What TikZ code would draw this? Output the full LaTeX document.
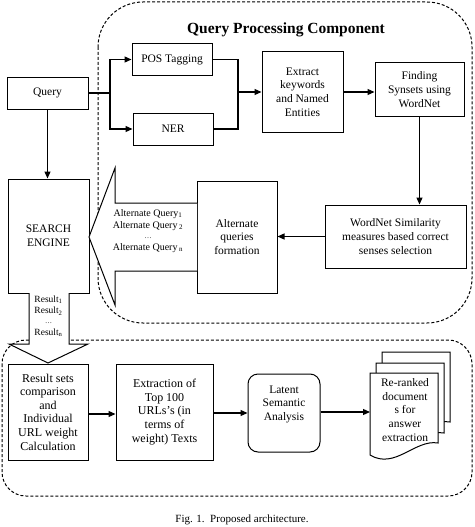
\documentclass[tikz,border=0pt]{standalone}
\usepackage{fontspec}
\setmainfont{Liberation Serif}
\usetikzlibrary{arrows.meta}
\begin{document}
\begin{tikzpicture}[x=1pt,y=-1pt,
  box/.style={draw, line width=1pt, align=center, inner sep=1pt,
    font=\fontsize{11.5}{13.7}\selectfont},
  bbox/.style={box, font=\fontsize{12}{13.6}\selectfont},
  arr/.style={-{Triangle[length=7pt,width=6pt]}, line width=1.2pt},
  ln/.style={line width=1.2pt},
  region/.style={draw, line width=1pt, dash pattern=on 3pt off 2pt},
  hollow/.style={draw, line width=1pt, fill=white},
  small/.style={align=center, font=\fontsize{10}{12}\selectfont},
  docsheet/.pic={\draw[fill=white, line width=1pt] (0,0) -- (68,0) -- (68,70)
     .. controls (45,66) and (25,97) .. (0,82) -- cycle;}
]
\useasboundingbox (0,0) rectangle (474,527);

% dashed regions
\draw[region, rounded corners=45pt] (98,2) rectangle (472,323);
\draw[region, rounded corners=24pt] (2,340) rectangle (472,496);

\node[font=\bfseries\fontsize{15.5}{18}\selectfont] (title) at (286,30) {Query Processing Component};

% top boxes
\node[box, minimum width=81pt, minimum height=32pt] (query) at (47.5,93) {Query};
\node[box, minimum width=80pt, minimum height=31pt] (pos) at (172,59.5) {POS Tagging};
\node[box, minimum width=80pt, minimum height=32pt] (ner) at (173,129) {NER};
\node[box, minimum width=81pt, minimum height=80pt] (extract) at (302.5,92) {Extract\\keywords\\and Named\\Entities};
\node[box, minimum width=89pt, minimum height=53pt] (finding) at (419.5,89.5) {Finding\\Synsets using\\WordNet};
\node[box, minimum width=141pt, minimum height=63pt] (sim) at (395.5,236.5) {WordNet Similarity\\measures based correct\\senses selection};
\node[box, minimum width=80pt, minimum height=112pt] (alt) at (237,237) {Alternate\\queries\\formation};
\node[box, minimum width=81pt, minimum height=114pt] (search) at (48.5,236) {SEARCH\\ENGINE};

% hollow arrows
\fill[white] (197,203) -- (115,203) -- (115,168) -- (89,237) -- (115,305) -- (115,271) -- (197,271) -- cycle;
\draw[line width=1pt] (197,203) -- (115,203) -- (115,168) -- (89,237) -- (115,305) -- (115,271) -- (197,271);
\node[small] (altq) at (148,231) {Alternate Query\textsubscript{1}\\Alternate Query\,\textsubscript{2}\\[-2pt]{\fontsize{7}{8}\selectfont\dots}\\Alternate Query\,\textsubscript{n}};

\fill[white] (29,293) -- (29,344) -- (9,344) -- (48,363) -- (88,344) -- (69,344) -- (69,293) -- cycle;
\draw[line width=1pt] (29,293) -- (29,344) -- (9,344) -- (48,363) -- (88,344) -- (69,344) -- (69,293);
\node[align=center, font=\fontsize{9.5}{11.8}\selectfont] (res) at (48.5,316) {Result\textsubscript{1}\\Result\textsubscript{2}\\[-2pt]{\fontsize{7}{8}\selectfont\dots}\\Result\textsubscript{n}};

% bottom boxes
\node[bbox, minimum width=80pt, minimum height=96pt] (result) at (48,412) {Result sets\\comparison\\and\\Individual\\URL weight\\Calculation};
\node[bbox, minimum width=97pt, minimum height=96pt] (extraction) at (164.5,412) {Extraction of\\Top 100\\URLs’s (in\\terms of\\weight) Texts};
\node[box, rounded corners=10pt, minimum width=72pt, minimum height=78pt] (lsa) at (284,413) {};
\node[align=center, font=\fontsize{11.5}{13.5}\selectfont] (lsatext) at (284,404) {Latent\\Semantic\\Analysis};

% documents
\pic at (382,352) {docsheet};
\pic at (376,363) {docsheet};
\pic at (370,373) {docsheet};
\node[align=center, minimum width=70pt, inner sep=0pt, font=\fontsize{11.5}{13.6}\selectfont] (docs) at (405,410) {Re-ranked\\document\\s for\\answer\\extraction};
\coordinate (docin) at (370,412);

% connectors
\coordinate (b1) at (110,93);
\coordinate (b2) at (238,92);
\draw[ln] (query.east) -- (b1);
\draw[arr] (b1) |- (pos.west);
\draw[arr] (b1) |- (ner.west);
\draw[ln] (pos.east) -| (b2);
\draw[ln] (ner.east) -| (b2);
\draw[arr] (b2) -- (b2 -| extract.west);
\draw[arr] (extract.east) -- (extract.east -| finding.west);
\draw[arr] (finding.south) -- (finding.south |- sim.north);
\draw[arr] (sim.west) -- (sim.west -| alt.east);
\draw[arr] (query.south) -- (query.south |- search.north);
\draw[arr] (result.east |- 0,414) -- (extraction.west |- 0,414);
\draw[arr] (extraction.east |- 0,413) -- (lsa.west |- 0,413);
\draw[arr] (lsa.east |- docin) -- (docin);

\node[font=\fontsize{11}{13}\selectfont] (caption) at (242,520) {Fig. 1.\ \ Proposed architecture.};
\end{tikzpicture}
\end{document}
